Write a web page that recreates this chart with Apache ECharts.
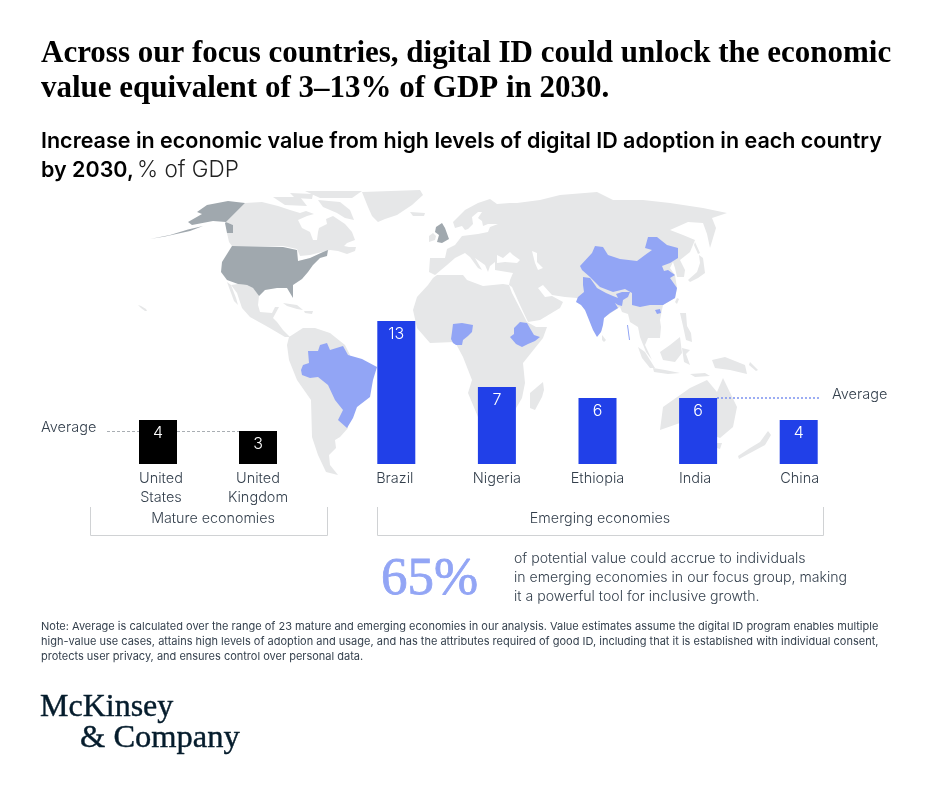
<!DOCTYPE html>
<html>
<head>
<meta charset="utf-8">
<title>Digital ID economic value</title>
<style>html,body{margin:0;padding:0;background:#fff}#chart{width:940px;height:788px}</style>
<script src="https://cdn.jsdelivr.net/npm/echarts@6/dist/echarts.min.js"></script>
</head>
<body>
<div id="chart"></div>
<script>
// Values: increase in economic value, % of GDP
const matureCountries = ['United\nStates', 'United\nKingdom'];
const matureValues = [4, 3];
const emergingCountries = ['Brazil', 'Nigeria', 'Ethiopia', 'India', 'China'];
const emergingValues = [13, 7, 6, 6, 4];
const matureAverage = 3;
const emergingAverage = 6;

// Simplified world outlines on a 940x788 canvas
const landOutlines = [
  // Canada
  'M245,203 262,202 278,206 290,210 300,213 306,211 314,214 307,216 298,220 302,228 310,232 313,240 317,240 318,232 319,228 327,224 326,219 333,216 345,224 352,232 355,240 347,243 344,246 349,247 356,247 355,251 347,254 338,251 330,250 322,252 310,255 300,256 297,249 283,246 232,246 229,242 227,233 233,233 233,225 226,222Z',
  // Arctic islands
  'M318,200 340,202 350,210 354,220 345,218 337,213 323,207Z',
  'M273,197 300,197 307,206 285,205Z',
  'M290,193 313,194 312,199 295,198Z',
  'M305,191 362,191 352,198 320,198Z',
  // Greenland
  'M362,192 420,190 423,195 412,205 397,215 385,219 378,222 372,216 368,207Z',
  // Iceland
  'M410,212 425,213 424,216 413,216Z',
  // Mexico and Central America
  'M231,285 238,284 247,285 253,288 259,296 258,305 260,312 272,313 275,307 279,307 273,318 277,322 283,330 290,337 285,337 268,327 250,317 242,308 237,293Z',
  'M227,282 231,285 236,298 238,305 234,301Z',
  // Caribbean
  'M283,303 297,305 303,310 297,309 287,306Z',
  'M304,311 313,311 312,314 305,313Z',
  // Hawaii
  'M138,305 141,306 146,309 147,311 145,311 141,308Z',
  // South America
  'M289,337 303,328 315,328 330,333 345,345 350,355 345,400 348,428 340,437 335,440 336,448 329,455 330,465 338,475 326,472 318,455 312,437 311,400 297,380 289,360 287,345Z',
  // Ireland
  'M429,236 433,233 436,236 435,240 429,242Z',
  // Africa
  'M413,310 417,297 428,285 433,278 437,275 463,275 467,280 483,286 503,284 509,285 512,293 527,322 536,327 547,327 543,338 523,363 525,383 522,398 512,415 500,425 485,425 478,417 468,393 472,380 463,357 455,342 430,343 417,328Z',
  // Madagascar
  'M543,382 544,390 542,397 535,410 530,408 530,393Z',
  // Eurasia
  'M429,272 430,258 445,258 447,249 455,245 462,236 470,235 478,234 488,232 490,227 498,224 488,224 483,226 482,221 478,218 482,212 478,212 472,217 473,224 468,229 465,230 462,226 455,228 453,222 465,210 478,203 490,199 497,204 510,203 517,203 540,200 560,195 597,192 613,200 643,200 670,203 703,208 727,213 712,218 716,228 710,248 707,234 703,223 688,222 670,230 683,235 695,240 690,252 680,260 685,270 684,277 677,277 675,268 673,262 670,268 675,275 677,288 675,298 663,305 660,320 661,327 660,338 648,338 645,345 652,360 646,352 640,337 638,327 630,322 628,314 622,312 620,307 603,318 602,330 597,336 587,313 583,307 577,298 565,297 552,295 543,285 538,288 545,297 552,296 563,302 560,308 540,320 528,322 520,305 512,287 509,285 510,280 513,273 495,270 495,262 490,266 488,272 485,265 475,258 482,270 478,268 470,257 465,253 455,258 447,265 435,275Z',
  // Japan and Sakhalin
  'M699,255 703,258 705,273 698,278 690,282 688,280 697,272 700,263Z',
  'M695,242 700,253 698,254 694,245Z',
  // Taiwan and Philippines
  'M677,298 679,299 677,304 675,302Z',
  'M680,313 686,313 687,326 691,333 692,342 686,340 683,326Z',
  // Borneo, Sumatra, Java, Sulawesi
  'M660,352 670,345 680,337 682,353 675,362 663,360Z',
  'M638,347 645,352 655,368 650,368 642,358Z',
  'M653,368 665,370 680,373 668,374 654,372Z',
  'M682,348 690,350 686,354 690,365 684,362Z',
  // New Guinea and nearby islands
  'M712,360 725,357 745,365 747,374 730,370 715,368Z',
  'M690,374 705,373 710,376 695,377Z',
  'M750,362 758,370 756,371 749,365Z',
  // Australia and Tasmania
  'M660,430 663,407 690,388 707,380 717,392 723,378 737,407 733,427 720,438 705,432 680,423Z',
  'M716,443 722,443 720,449 717,448Z',
  // New Zealand
  'M768,431 771,435 765,445 752,452 739,459 738,456 750,448 760,442Z',
  // Sri Lanka
  'M602,335 606,340 604,342 602,340Z'
];
const seaOutlines = [
  'M497,255 503,258 510,252 513,255 520,260 517,263 505,262 497,263Z',
  'M532,251 537,253 537,262 543,268 538,270 535,263Z'
];
const countryOutlines = {
  'United States': [
    'M232,246 283,247 297,250 298,261 310,258 323,252 328,250 327,256 320,258 313,265 308,272 302,279 293,285 293,298 290,293 287,288 277,288 265,290 259,296 253,288 247,285 238,284 227,280 221,272 222,262Z',
    'M245,203 228,201 207,205 197,212 202,214 188,222 192,225 213,221 226,222 233,225 233,233 227,233 225,223Z',
    'M150,239 170,235 188,229.5 203,226 190,231 165,236.5Z'
  ],
  'United Kingdom': [
    'M442,223 445,228 449,239 442,243 437,242 439,235 435,232 436,227Z'
  ],
  'Brazil': [
    'M301,370 303,365 309,363 308,351 318,351 320,345 327,343 330,350 343,346 348,355 362,359 377,367 373,380 370,397 357,407 353,418 347,428 338,420 343,410 335,400 328,385 318,377 310,378 302,375Z'
  ],
  'Nigeria': [
    'M453,324 462,323 473,325 472,332 468,336 463,340 462,345 456,345 453,343 451,339 452,332Z'
  ],
  'Ethiopia': [
    'M520,322 527,323 531,330 534,335 540,337 535,341 528,344 522,347 516,344 510,337 514,334 514,328Z'
  ],
  'India': [
    'M583,277 590,278 595,285 597,288 606,293 613,296 618,298 616,294 622,292 630,292 628,297 623,300 622,306 618,305 615,303 618,308 610,313 604,318 603,325 601,332 597,337 593,330 589,320 585,310 581,305 576,302 578,297 584,292 583,285Z',
    'M627,325 628,325 630,340 629,340Z'
  ],
  'China': [
    'M580,266 592,253 595,246 603,247 608,255 620,259 637,261 645,255 652,250 645,248 648,237 657,237 667,245 678,248 678,258 670,263 662,266 664,271 668,270 675,275 670,278 677,288 675,298 663,305 650,305 640,307 632,305 632,293 625,289 613,292 600,287 590,277 582,270Z',
    'M655,310 660,309 661,313 657,314Z'
  ]
};

// Small sideways offsets of a few country names under their bars
const labelPadding = {
  'United\nStates': [0, 0, 0, 6],
  'Brazil': [0, 3, 0, 0],
  'India': [0, 6, 0, 0],
  'China': [0, 0, 0, 2]
};

const toPath = (d, name) => '<path name="' + name + '" d="' + d + '"/>';
const svgMap = '<svg xmlns="http://www.w3.org/2000/svg" viewBox="0 0 940 788" width="940" height="788">'
  + landOutlines.map(d => toPath(d, 'land')).join('')
  + seaOutlines.map(d => toPath(d, 'sea')).join('')
  + Object.keys(countryOutlines).map(n => countryOutlines[n].map(d => toPath(d, n)).join('')).join('')
  + '</svg>';
echarts.registerMap('worldOutline', { svg: svgMap });

const SERIF = '"Liberation Serif", serif';
const SANS = 'Inter, "Liberation Sans", sans-serif';
const TEXT = '#333F4C';
const BLUE = '#2140E8';
const LIGHT_BLUE = '#92A5F5';
const GREY = '#A0A8AE';
const LAND = '#E6E7E8';

const label = (text, x, y, font, fill, align, strokeWidth) => ({
  type: 'text', silent: true, z: 20,
  style: {
    text, x, y, font, fill: fill || TEXT, textAlign: align || 'left', textVerticalAlign: 'middle',
    stroke: strokeWidth ? (fill || TEXT) : null, lineWidth: strokeWidth || 0
  }
});
const bracket = (x0, x1) => ({
  type: 'polyline', silent: true, z: 1,
  shape: { points: [[x0, 507], [x0, 535.5], [x1, 535.5], [x1, 507]] },
  style: { stroke: '#D0D2D4', lineWidth: 1, fill: null }
});

const barSeries = (name, values, color, grid, average, avgColor, avgType, from, to, avgWidth) => ({
  name, type: 'bar', xAxisIndex: grid, yAxisIndex: grid, data: values, barWidth: 38,
  itemStyle: { color }, silent: true, z: 3,
  label: { show: true, position: 'insideTop', distance: 5, color: '#fff', fontFamily: SANS, fontWeight: 300, fontSize: 16 },
  markLine: {
    silent: true, symbol: 'none', z: 1, label: { show: false },
    lineStyle: { color: avgColor, type: avgType, width: avgWidth },
    data: [[{ x: from, yAxis: average }, { x: to, yAxis: average }]]
  }
});
const categoryAxis = (grid, names) => ({
  type: 'category', gridIndex: grid,
  data: names.map(value => labelPadding[value] ? { value, textStyle: { padding: labelPadding[value] } } : value),
  axisLine: { show: false }, axisTick: { show: false },
  axisLabel: { color: TEXT, fontFamily: SANS, fontWeight: 300, fontSize: 14.5, lineHeight: 19, margin: 5, interval: 0 }
});
const valueAxis = grid => ({ type: 'value', gridIndex: grid, min: 0, max: 13, show: false });

const chart = echarts.init(document.getElementById('chart'), null, { renderer: 'canvas' });
chart.setOption({
  animation: false,
  backgroundColor: '#fff',
  geo: {
    map: 'worldOutline', left: 0, top: 0, width: 940, height: 788, roam: false, silent: true, z: 0,
    label: { show: false },
    itemStyle: { areaColor: LAND, borderWidth: 0 },
    regions: [
      { name: 'land', itemStyle: { areaColor: LAND, borderWidth: 0 } },
      { name: 'sea', itemStyle: { areaColor: '#fff', borderWidth: 0 } },
      { name: 'United States', itemStyle: { areaColor: GREY, borderWidth: 0 } },
      { name: 'United Kingdom', itemStyle: { areaColor: GREY, borderWidth: 0 } },
      { name: 'Brazil', itemStyle: { areaColor: LIGHT_BLUE, borderWidth: 0 } },
      { name: 'Nigeria', itemStyle: { areaColor: LIGHT_BLUE, borderWidth: 0 } },
      { name: 'Ethiopia', itemStyle: { areaColor: LIGHT_BLUE, borderWidth: 0 } },
      { name: 'India', itemStyle: { areaColor: LIGHT_BLUE, borderWidth: 0 } },
      { name: 'China', itemStyle: { areaColor: LIGHT_BLUE, borderWidth: 0 } }
    ]
  },
  grid: [
    { left: 108, width: 200, top: 321, height: 143 },
    { left: 346, width: 503, top: 321, height: 143 }
  ],
  xAxis: [categoryAxis(0, matureCountries), categoryAxis(1, emergingCountries)],
  yAxis: [valueAxis(0), valueAxis(1)],
  series: [
    barSeries('Mature economies', matureValues, '#000', 0, matureAverage, '#A9AEB3', [3, 2], 107, 239, 1),
    barSeries('Emerging economies', emergingValues, BLUE, 1, emergingAverage, '#7C92F0', [2, 2], 717, 820, 1.5)
  ],
  graphic: [
    label('Across our focus countries, digital ID could unlock the economic', 41, 54, 'bold 31px ' + SERIF, '#000'),
    label('value equivalent of 3–13% of GDP in 2030.', 41, 89, 'bold 31px ' + SERIF, '#000'),
    label('Increase in economic value from high levels of digital ID adoption in each country', 41, 142, '600 21.5px ' + SANS, '#000'),
    label('by 2030,', 41, 170.5, '600 21.5px ' + SANS, '#000'),
    label('% of GDP', 137, 170.5, '300 22.5px ' + SANS, '#222'),
    label('Average', 41, 428, '300 14.5px ' + SANS),
    label('Average', 832, 395, '300 14.5px ' + SANS),
    bracket(90.5, 327.5),
    bracket(377.5, 823.5),
    label('Mature economies', 213, 519, '300 14.3px ' + SANS, TEXT, 'center'),
    label('Emerging economies', 600, 519, '300 14.3px ' + SANS, TEXT, 'center'),
    label('65%', 381, 580, '53px ' + SERIF, LIGHT_BLUE, 'left', 0.8),
    label('of potential value could accrue to individuals', 514, 559, '300 14.1px ' + SANS),
    label('in emerging economies in our focus group, making', 514, 578, '300 14.1px ' + SANS),
    label('it a powerful tool for inclusive growth.', 514, 597, '300 14.1px ' + SANS),
    label('Note: Average is calculated over the range of 23 mature and emerging economies in our analysis. Value estimates assume the digital ID program enables multiple', 41, 626.5, '11px ' + SANS),
    label('high-value use cases, attains high levels of adoption and usage, and has the attributes required of good ID, including that it is established with individual consent,', 41, 642, '11px ' + SANS),
    label('protects user privacy, and ensures control over personal data.', 41, 657, '11px ' + SANS),
    label('McKinsey', 40, 708, '32px ' + SERIF, '#051C2C', 'left', 0.4),
    label('& Company', 80, 738, '32.5px ' + SERIF, '#051C2C', 'left', 0.4)
  ]
});
</script>
</body>
</html>
